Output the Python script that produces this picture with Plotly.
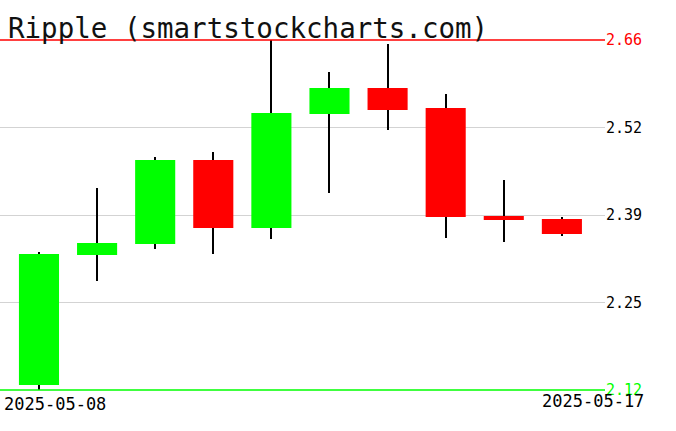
import plotly.graph_objects as go

# daily OHLC
dates = ["2025-05-08", "2025-05-09", "2025-05-10", "2025-05-11", "2025-05-12",
         "2025-05-13", "2025-05-14", "2025-05-15", "2025-05-16", "2025-05-17"]
opens = [2.1277, 2.3283, 2.3453, 2.4749, 2.3699, 2.5458, 2.5859, 2.5551, 2.3884, 2.3838]
highs = [2.3329, 2.4317, 2.4795, 2.4872, 2.6600, 2.6106, 2.6538, 2.5767, 2.4440, 2.3869]
lows = [2.1200, 2.2882, 2.3375, 2.3298, 2.3530, 2.4239, 2.5211, 2.3545, 2.3483, 2.3576]
closes = [2.3298, 2.3468, 2.4749, 2.3699, 2.5474, 2.5859, 2.5520, 2.3869, 2.3823, 2.3607]

tick_text = ["2.12", "2.25", "2.39", "2.52", "2.66"]

UP = "#00ff00"
DOWN = "#ff0000"
GRID = "#d3d3d3"
MONO = "DejaVu Sans Mono"

lo, hi = min(lows), max(highs)
step = (hi - lo) / (len(tick_text) - 1)
tick_vals = [lo + i * step for i in range(len(tick_text))]
pad = (hi - lo) / 350  # about one pixel, so the edge lines are not clipped
labels = list(tick_text)
labels[0] = f"<span style='color:{UP}'>{labels[0]}</span>"
labels[-1] = f"<span style='color:{DOWN}'>{labels[-1]}</span>"

body_base = [min(o, c) for o, c in zip(opens, closes)]
body_len = [abs(c - o) for o, c in zip(opens, closes)]
body_col = [UP if c >= o else DOWN for o, c in zip(opens, closes)]

fig = go.Figure()
# wicks first, bodies drawn over them
fig.add_trace(go.Bar(
    x=dates, y=[h - l for h, l in zip(highs, lows)], base=lows,
    width=0.017, marker=dict(color="black", line=dict(width=0)),
    hoverinfo="skip",
))
fig.add_trace(go.Bar(
    x=dates, y=body_len, base=body_base,
    width=0.69, marker=dict(color=body_col, line=dict(width=0)),
))

fig.add_hline(y=hi, line=dict(color=DOWN, width=1.3))
fig.add_hline(y=lo, line=dict(color=UP, width=1.3))

fig.add_annotation(
    text="Ripple (smartstockcharts.com)", xref="paper", yref="paper",
    x=0, y=1, xanchor="left", yanchor="bottom", xshift=6, yshift=-7,
    showarrow=False, font=dict(family=MONO, size=27.5, color="#111111"),
)
fig.add_annotation(
    text=dates[0], xref="paper", yref="paper", x=0, y=0,
    xanchor="left", yanchor="top", xshift=2, yshift=-1,
    showarrow=False, font=dict(family=MONO, size=17, color="black"),
)
fig.add_annotation(
    text=dates[-1], xref="paper", yref="paper", x=646 / 605, y=0,
    xanchor="right", yanchor="top", yshift=2,
    showarrow=False, font=dict(family=MONO, size=17, color="black"),
)

fig.update_layout(
    width=676, height=431,
    margin=dict(l=0, r=71, t=39, b=40),
    paper_bgcolor="white", plot_bgcolor="white",
    barmode="overlay", showlegend=False,
    xaxis=dict(type="category", range=[-0.671, 9.742], showticklabels=False,
               showgrid=False, zeroline=False, showline=False, ticks=""),
    yaxis=dict(side="right", range=[lo - pad, hi + pad], tickvals=tick_vals,
               ticktext=labels, showgrid=True, gridcolor=GRID, gridwidth=1,
               zeroline=False, showline=False, ticks="",
               tickfont=dict(family=MONO, size=15, color="black")),
)

fig.write_html("out.html", config={"displayModeBar": False},
               post_script="document.body.style.margin='0px';")
